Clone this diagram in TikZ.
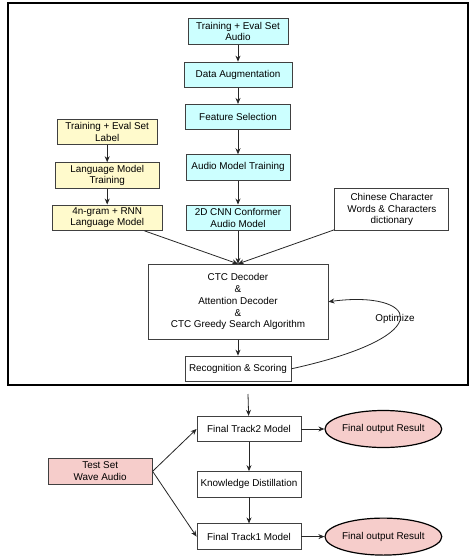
\documentclass[tikz,border=0pt]{standalone}
\usepackage{fontspec}
\setmainfont{Liberation Sans}
\usetikzlibrary{positioning, shapes.geometric, arrows.meta}
\definecolor{audiocyan}{HTML}{CCFFFF}
\definecolor{langyellow}{HTML}{FFFACC}
\definecolor{testpink}{HTML}{F6CDCB}

\begin{document}
\begin{tikzpicture}[
         x=1pt, y=-1pt,
         >={Stealth[length=6pt, width=5pt]},
         block/.style={draw=black!75, line width=0.8pt, align=center, inner sep=0pt,
            minimum width=104pt, minimum height=25.5pt,
            font=\fontsize{9.9}{11.8}\selectfont},
         audio/.style={block, fill=audiocyan},
         lang/.style={block, fill=langyellow},
         testset/.style={block, fill=testpink},
         result/.style={ellipse, draw, line width=1.2pt, fill=testpink, inner sep=0pt,
            minimum width=103pt, minimum height=37pt,
            font=\fontsize{9.9}{11.8}\selectfont},
         link/.style={->, line width=0.8pt, black!85}
      ]
         \useasboundingbox (0,0) rectangle (474,559);

         % Frame
         \draw[line width=1.6pt] (8,3) rectangle (468,385);

         % Audio column
         \node[audio, minimum width=100pt] (src) at (238,31.5) {Training + Eval Set\\Audio};
         \node[audio, minimum width=108pt] (aug) [below=17pt of src] {Data Augmentation};
         \node[audio, minimum width=105pt] (feat) [below=16pt of aug] {Feature Selection};
         \node[audio] (amtrain) [below=24pt of feat] {Audio Model Training};
         \node[audio] (conf) [below=24pt of amtrain] {2D CNN Conformer\\Audio Model};

         % Language model column
         \node[lang, minimum width=110pt] (lm) [left=23pt of conf] {4n-gram + RNN\\Language Model};
         \node[lang] (lmtrain) [above=16pt of lm] {Language Model\\Training};
         \node[lang, minimum width=100pt] (lbl) [above=17pt of lmtrain] {Training + Eval Set\\Label};

         % Dictionary
         \node[block, minimum width=114pt, minimum height=42pt] (dict)
            [right=44pt of conf.south east, anchor=south west]
            {Chinese Character\\Words \& Characters\\dictionary};

         % Decoder and scoring
         \node[block, minimum width=180pt, minimum height=75pt] (ctc) [below=33pt of conf]
            {CTC Decoder\\\&\\Attention Decoder\\\&\\CTC Greedy Search Algorithm};
         \node[block, minimum width=106pt] (recog) [below=16pt of ctc] {Recognition \& Scoring};
         \node[font=\fontsize{9.9}{11.8}\selectfont] (opt) at (395,319) {Optimize};

         % Arrows inside the frame
         \draw[link] (src) -- (aug);
         \draw[link] (aug) -- (feat);
         \draw[link] (feat) -- (amtrain);
         \draw[link] (amtrain) -- (conf);
         \draw[link] (lbl) -- (lmtrain);
         \draw[link] (lmtrain) -- (lm);
         \draw[link] (lm) -- (ctc.north);
         \draw[link] (conf) -- (ctc.north);
         \draw[link] (dict) -- (ctc.north);
         \draw[link] (ctc) -- (recog);
         \draw[link] (recog.east) .. controls (445,335) and (415,290) .. (ctc.east);

         % Final models
         \coordinate (entry) at (248,394);
         \node[block] (track2) at (249,429) {Final Track2 Model};
         \node[block] (kd) [below=29pt of track2] {Knowledge Distillation};
         \node[block] (track1) [below=26pt of kd] {Final Track1 Model};
         \node[result] (res2) [right=23pt of track2] {Final output Result};
         \node[result] (res1) [right=23pt of track1] {Final output Result};
         \node[testset] (test) [left=44pt of kd, yshift=13pt] {Test Set\\Wave Audio};

         % Arrows below the frame
         \draw[link] (entry) -- (track2);
         \draw[link] (track2) -- (kd);
         \draw[link] (kd) -- (track1);
         \draw[link] (track2) -- (res2);
         \draw[link] (track1) -- (res1);
         \draw[link] (test.east) -- (track2.west);
         \draw[link] (test.east) -- (track1.west);

      \end{tikzpicture}
\end{document}
